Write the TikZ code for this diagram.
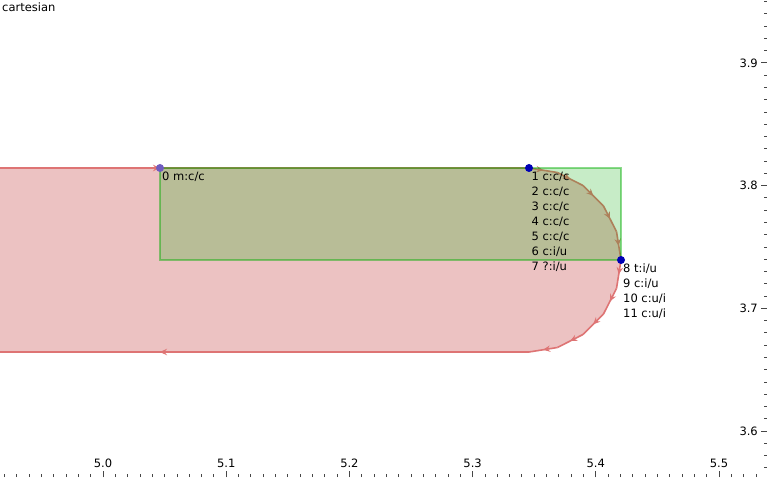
\documentclass[tikz,border=0pt]{standalone}
\usepackage{fontspec}
\setmainfont{DejaVu Sans}
\usetikzlibrary{arrows.meta, decorations.markings}

\definecolor{regionred}{RGB}{236,194,194}
\definecolor{edgered}{RGB}{222,116,116}
\definecolor{boxgreen}{RGB}{0,173,0}
\definecolor{ptblue}{RGB}{0,0,180}
\definecolor{ptpurple}{RGB}{112,92,192}
\definecolor{tickgray}{RGB}{70,70,70}

\tikzset{
  lbl/.style={inner sep=0pt, font=\fontsize{11.5}{13}\selectfont, text=black},
  edge/.style={draw=edgered, line width=1.6pt},
  midarrow/.style={postaction={decorate, decoration={markings,
      mark=at position 0.5 with {\arrow[edgered, line width=1pt]{Stealth[length=7pt, width=6.5pt, inset=2.5pt]}}}}},
  pt/.style={circle, fill=ptblue, inner sep=0pt, minimum size=8pt},
  tick/.style={draw=tickgray, line width=0.8pt},
}

\begin{document}
\begin{tikzpicture}[x=1pt, y=1pt]
    \clip (0,0) rectangle (767,477);
    \fill[white] (0,0) rectangle (767,477);

    % red region with rounded end
    \coordinate (c) at (529,217);
    \coordinate (tl) at (-209,309);
    \coordinate (bl) at (-209,125);
    \fill[regionred] (tl) \foreach \a in {90,72,...,-90} { -- ([shift={(\a:92)}]c) } -- (bl) -- cycle;

    \draw[edge, midarrow] (tl) -- ([shift={(90:92)}]c);
    \foreach \a [evaluate=\a as \b using int(\a-18)] in {90,72,...,-72}
        \draw[edge, midarrow] ([shift={(\a:92)}]c) -- ([shift={(\b:92)}]c);
    \draw[edge, midarrow] ([shift={(-90:92)}]c) -- (bl);

    % green box
    \filldraw[fill=boxgreen, fill opacity=0.22, draw=boxgreen, draw opacity=0.45, line width=1.5pt]
        (160,217) rectangle (621,309);

    % points
    \node[pt, fill=ptpurple] (p0) at (160,309) {};
    \node[pt] (p1) at (529,309) {};
    \node[pt] (p8) at (621,217) {};

    % point labels
    \node[lbl, anchor=base west] (l0) at (162,296) {0 m:c/c};
    \foreach \t [count=\i from 0] in {1 c:c/c, 2 c:c/c, 3 c:c/c, 4 c:c/c, 5 c:c/c, 6 c:i/u, 7 ?:i/u}
        \node[lbl, anchor=base west] (top\i) at (531.5, 296.5-15*\i) {\t};
    \foreach \t [count=\i from 0] in {8 t:i/u, 9 c:i/u, 10 c:u/i, 11 c:u/i}
        \node[lbl, anchor=base west] (bot\i) at (623, 204.5-15*\i) {\t};

    % axes
    \node[lbl, anchor=north west] (title) at (2,474.5) {cartesian};
    \foreach \k in {-8,...,53}
        \draw[tick] (103+12.32*\k, 0) -- ++(0,3);
    \foreach \k/\t in {0/5.0, 1/5.1, 2/5.2, 3/5.3, 4/5.4, 5/5.5} {
        \draw[tick] (103+123.2*\k, 0) -- ++(0,6);
        \node[lbl, anchor=base] (xl\k) at (103+123.2*\k, 10) {\t};
    }
    \foreach \k in {-3,...,35}
        \draw[tick] (767, 46+12.27*\k) -- ++(-3,0);
    \foreach \k/\t in {0/3.6, 1/3.7, 2/3.8, 3/3.9} {
        \draw[tick] (767, 46+122.7*\k) -- ++(-6,0);
        \node[lbl, anchor=east] (yl\k) at (758, 46+122.7*\k) {\t};
    }
\end{tikzpicture}
\end{document}
